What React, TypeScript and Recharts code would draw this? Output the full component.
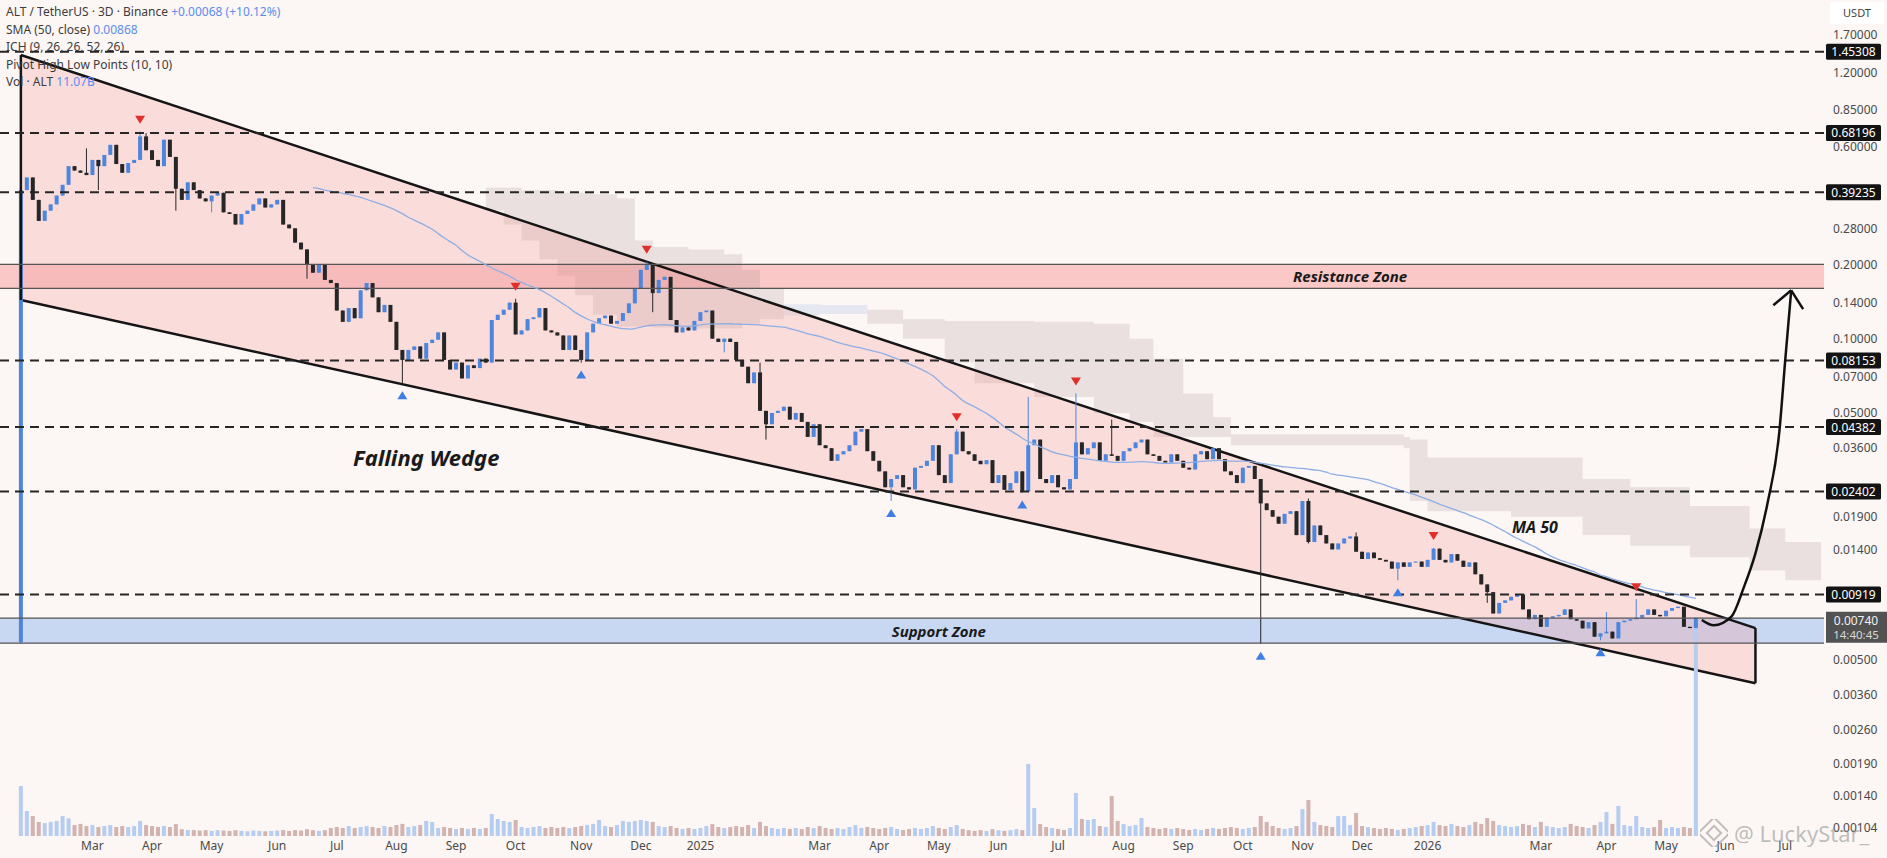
import React from 'react'
import {
  ComposedChart,
  Bar,
  Line,
  Area,
  XAxis,
  YAxis,
  ReferenceLine,
  ReferenceArea,
  ReferenceDot,
} from 'recharts'

// 3D candles, first one opens Jan 25 2024 (day 24 counted from Jan 1 2024)
const FIRST_DAY = 24
const CANDLE_DAYS = 3
const LEAD_SLOTS = 3
const TOTAL_SLOTS = 306

const firstOpen = 0.0059

const closes = [
  0.40, 0.45, 0.365, 0.30, 0.33, 0.35, 0.38, 0.42, 0.50, 0.48,
  0.47, 0.46, 0.53, 0.50, 0.555, 0.61, 0.51, 0.47, 0.515, 0.53,
  0.66, 0.58, 0.53, 0.50, 0.64, 0.545, 0.405, 0.365, 0.43, 0.40,
  0.37, 0.36, 0.38, 0.39, 0.325, 0.32, 0.29, 0.32, 0.33, 0.35,
  0.37, 0.34, 0.35, 0.365, 0.29, 0.28, 0.245, 0.23, 0.20, 0.185,
  0.20, 0.173, 0.168, 0.13, 0.117, 0.133, 0.121, 0.157, 0.168, 0.147,
  0.128, 0.137, 0.117, 0.09, 0.082, 0.09, 0.093, 0.083, 0.096, 0.099,
  0.106, 0.082, 0.075, 0.08, 0.069, 0.078, 0.076, 0.083, 0.08, 0.119,
  0.125, 0.131, 0.14, 0.104, 0.108, 0.12, 0.122, 0.133, 0.108, 0.106,
  0.103, 0.09, 0.103, 0.09, 0.082, 0.106, 0.115, 0.121, 0.124, 0.115,
  0.118, 0.127, 0.139, 0.16, 0.19, 0.20, 0.153, 0.173, 0.178, 0.119,
  0.106, 0.111, 0.108, 0.118, 0.128, 0.13, 0.10, 0.097, 0.10, 0.097,
  0.082, 0.077, 0.066, 0.073, 0.051, 0.045, 0.05, 0.051, 0.053, 0.047,
  0.05, 0.046, 0.04, 0.045, 0.037, 0.036, 0.032, 0.034, 0.035, 0.037,
  0.042, 0.043, 0.035, 0.032, 0.029, 0.025, 0.027, 0.028, 0.025, 0.0245,
  0.03, 0.0305, 0.032, 0.037, 0.028, 0.026, 0.034, 0.042, 0.035, 0.034,
  0.032, 0.031, 0.0322, 0.026, 0.028, 0.0244, 0.026, 0.029, 0.024, 0.037,
  0.039, 0.027, 0.026, 0.028, 0.025, 0.0245, 0.027, 0.038, 0.034, 0.036,
  0.038, 0.032, 0.034, 0.0335, 0.032, 0.035, 0.036, 0.038, 0.039, 0.034,
  0.0335, 0.032, 0.0315, 0.034, 0.032, 0.03, 0.0295, 0.034, 0.035, 0.0325,
  0.036, 0.0325, 0.029, 0.028, 0.026, 0.03, 0.0305, 0.027, 0.0215, 0.0202,
  0.019, 0.0178, 0.0195, 0.02, 0.016, 0.022, 0.015, 0.0175, 0.016, 0.0148,
  0.014, 0.0148, 0.0155, 0.0158, 0.0137, 0.0128, 0.0136, 0.0129, 0.0127, 0.0125,
  0.0117, 0.0124, 0.0119, 0.0124, 0.0125, 0.0119, 0.0127, 0.0141, 0.0127, 0.0124,
  0.0134, 0.0126, 0.0119, 0.0124, 0.0111, 0.0101, 0.0094, 0.0077, 0.0085, 0.0087,
  0.009, 0.0092, 0.008, 0.0073, 0.0076, 0.0068, 0.0074, 0.0075, 0.0076, 0.008,
  0.0073, 0.0072, 0.0067, 0.0071, 0.0062, 0.0064, 0.0065, 0.0061, 0.0071, 0.0072,
  0.0073, 0.0074, 0.0076, 0.008, 0.0076, 0.0075, 0.0079, 0.0081, 0.0082, 0.0068,
  0.00672, 0.0074,
]

// only the candles with a visible wick
const wickHighs: Record<number, number> = {
  0: 1.1, 11: 0.59, 20: 0.69, 21: 0.68, 83: 0.145, 105: 0.205, 124: 0.08,
  157: 0.043, 169: 0.058, 177: 0.06, 183: 0.047, 216: 0.0225, 224: 0.0164,
  237: 0.0142, 266: 0.0078, 271: 0.0088,
}
const wickLows: Record<number, number> = {
  0: 0.0058, 13: 0.40, 26: 0.33, 32: 0.325, 48: 0.175, 64: 0.066, 94: 0.08,
  106: 0.128, 118: 0.088, 125: 0.039, 146: 0.022, 168: 0.0238, 208: 0.0058,
  216: 0.0148, 231: 0.0105, 246: 0.0085, 265: 0.006,
}

// volume, millions of ALT
const volumes = [
  2560, 1280, 1020, 720, 660, 720, 770, 1020, 900, 560,
  620, 510, 560, 460, 510, 560, 460, 510, 460, 510,
  770, 560, 510, 460, 510, 460, 610, 350, 310, 300,
  280, 300, 260, 300, 280, 260, 300, 260, 240, 280,
  260, 240, 260, 280, 300, 260, 300, 280, 350, 300,
  260, 300, 410, 460, 410, 510, 410, 460, 510, 460,
  410, 510, 460, 560, 620, 460, 510, 560, 770, 720,
  410, 460, 410, 360, 410, 360, 410, 360, 410, 1130,
  870, 770, 720, 820, 460, 410, 460, 510, 410, 460,
  410, 460, 410, 460, 510, 560, 620, 820, 510, 460,
  560, 770, 720, 770, 820, 770, 720, 510, 460, 510,
  410, 360, 410, 360, 410, 510, 610, 460, 410, 460,
  510, 460, 560, 410, 720, 510, 410, 360, 410, 360,
  410, 360, 460, 410, 510, 410, 360, 410, 360, 460,
  560, 410, 460, 410, 360, 410, 460, 360, 310, 360,
  410, 360, 410, 510, 410, 360, 460, 560, 360, 300,
  260, 300, 260, 350, 300, 260, 300, 350, 300, 3690,
  1430, 610, 460, 410, 360, 310, 410, 2200, 870, 820,
  870, 510, 460, 2050, 770, 610, 510, 560, 920, 460,
  410, 360, 410, 360, 410, 360, 310, 360, 310, 360,
  410, 360, 410, 460, 410, 360, 410, 460, 1020, 720,
  510, 410, 360, 410, 510, 1380, 1840, 720, 560, 510,
  460, 1020, 1020, 560, 1180, 510, 460, 410, 360, 410,
  360, 310, 360, 410, 460, 510, 560, 720, 560, 510,
  620, 510, 460, 560, 720, 620, 920, 770, 560, 510,
  460, 510, 620, 560, 460, 720, 510, 460, 410, 460,
  620, 510, 460, 410, 560, 720, 1230, 620, 1540, 560,
  510, 1020, 460, 410, 460, 820, 410, 460, 410, 460,
  410, 11070,
]

// Ichimoku cloud, sampled at candle indices (already shifted forward)
const cloudAIdx = [78, 81, 84, 87, 90, 93, 96, 100, 103, 106, 112, 118, 121, 124, 128]
const cloudATop = [0.41, 0.41, 0.40, 0.40, 0.39, 0.39, 0.385, 0.37, 0.25, 0.235, 0.23, 0.22, 0.19, 0.16, 0.15]
const cloudABot = [0.33, 0.29, 0.25, 0.21, 0.18, 0.15, 0.125, 0.112, 0.112, 0.111, 0.11, 0.11, 0.115, 0.12, 0.125]
const bullIdx = [128, 134, 142]
const bullTop = [0.138, 0.137, 0.134]
const bullBot = [0.124, 0.126, 0.128]
const cloudBIdx = [142, 148, 155, 160, 170, 180, 186, 190, 195, 200, 203, 232, 233, 236, 250, 262, 270, 280, 290, 296, 302]
const cloudBTop = [0.131, 0.12, 0.118, 0.118, 0.117, 0.115, 0.1, 0.083, 0.06, 0.048, 0.041, 0.04, 0.039, 0.033, 0.033, 0.027, 0.025, 0.021, 0.017, 0.015, 0.013]
const cloudBBot = [0.115, 0.1, 0.08, 0.066, 0.058, 0.05, 0.046, 0.04, 0.04, 0.04, 0.037, 0.036, 0.022, 0.02, 0.019, 0.016, 0.0145, 0.013, 0.0115, 0.0105, 0.0099]

const wedgeIdx = [0, 291]
const wedgeTop = [1.41, 0.00672]
const wedgeBottom = [0.1434, 0.00402]

const arrowIdx = [282, 284, 287, 289, 291, 293, 295, 296, 297]
const arrowPrice = [0.00725, 0.0069, 0.0075, 0.00976, 0.0135, 0.0214, 0.0418, 0.082, 0.157]
const arrowHeadIdx = [294, 299]
const arrowHeadPrice = [0.1366, 0.1317]

const pivotHighIdx = [20, 83, 105, 157, 177, 237, 271]
const pivotLowIdx = [64, 94, 146, 168, 208, 231, 265]

const levelLines = [1.45308, 0.68196, 0.39235, 0.08153, 0.04382, 0.02402, 0.00919]
const priceTicks = [1.7, 1.2, 0.85, 0.6, 0.28, 0.2, 0.14, 0.1, 0.07, 0.05, 0.036, 0.019, 0.014, 0.005, 0.0036, 0.0026, 0.0019, 0.0014, 0.00104]
const resistanceZone = [0.16, 0.2]
const supportZone = [0.00584, 0.00738]
const lastPrice = 0.0074

const monthDays = [60, 91, 121, 152, 182, 213, 244, 274, 305, 335, 366, 425, 456, 486, 517, 547, 578, 609, 639, 670, 700, 731, 790, 821, 851, 882, 912]
const monthLabels = ['Mar', 'Apr', 'May', 'Jun', 'Jul', 'Aug', 'Sep', 'Oct', 'Nov', 'Dec', '2025', 'Mar', 'Apr', 'May', 'Jun', 'Jul', 'Aug', 'Sep', 'Oct', 'Nov', 'Dec', '2026', 'Mar', 'Apr', 'May', 'Jun', 'Jul']

const notes = [
  { text: 'Falling Wedge', idx: 68, price: 0.0332, size: 22 },
  { text: 'MA 50', idx: 254, price: 0.01726, size: 16 },
  { text: 'Resistance Zone', idx: 223, price: 0.179, size: 15 },
  { text: 'Support Zone', idx: 154, price: 0.00655, size: 15 },
]

const FONT = '"Noto Sans", "DejaVu Sans", sans-serif'
const BG = '#fcf6f4'
const UP = '#4f86dd'
const DOWN = '#262626'
const UP_VOL = '#b6cdf2'
const DOWN_VOL = '#d3b3b0'
const TXT_BLUE = '#5b8def'

const slotOf = (i: number) => i + LEAD_SLOTS

type Row = Record<string, any>

const rows: Row[] = Array.from({ length: TOTAL_SLOTS }, (_, k) => ({ slot: k }))

closes.forEach((close, i) => {
  const open = i === 0 ? firstOpen : closes[i - 1]
  const high = wickHighs[i] ?? Math.max(open, close)
  const low = wickLows[i] ?? Math.min(open, close)
  let sma
  if (i >= 49) {
    let s = 0
    for (let j = i - 49; j <= i; j++) s += closes[j]
    sma = s / 50
  }
  Object.assign(rows[slotOf(i)], {
    open, close, high, low,
    range: [low, high],
    up: close >= open,
    vol: volumes[i],
    sma,
  })
})

const putRange = (key: string, idx: number[], lo: number[], hi: number[]) => {
  idx.forEach((i, n) => {
    rows[slotOf(i)][key] = [lo[n], hi[n]]
  })
}
putRange('cloudA', cloudAIdx, cloudABot, cloudATop)
putRange('cloudBull', bullIdx, bullBot, bullTop)
putRange('cloudB', cloudBIdx, cloudBBot, cloudBTop)
putRange('wedge', wedgeIdx, wedgeBottom, wedgeTop)
arrowIdx.forEach((i, n) => {
  rows[slotOf(i)].arrow = arrowPrice[n]
})

const monthSlots = monthDays.map((d) => slotOf(Math.round((d - FIRST_DAY) / CANDLE_DAYS)))
const monthLabelOf: Record<number, string> = {}
monthSlots.forEach((s, n) => {
  monthLabelOf[s] = monthLabels[n]
})

function Candle(props: any) {
  const { x, y, width, height, payload } = props
  if (!payload || payload.close == null) return null
  const { open, close, high, low } = payload
  const top = Math.min(y, y + height)
  const span = Math.abs(height)
  const lh = Math.log(high)
  const ll = Math.log(low)
  const toY = (v: number) => (lh === ll ? top : top + (span * (lh - Math.log(v))) / (lh - ll))
  const color = close >= open ? UP : DOWN
  const cx = x + width / 2
  const bodyTop = toY(Math.max(open, close))
  const bodyBot = toY(Math.min(open, close))
  return (
    <g>
      <line x1={cx} x2={cx} y1={top} y2={top + span} stroke={color} strokeWidth={1} />
      <rect x={x} y={bodyTop} width={width} height={Math.max(1, bodyBot - bodyTop)} fill={color} />
    </g>
  )
}

function VolBar(props: any) {
  const { x, y, width, height, payload } = props
  if (!payload || payload.vol == null) return null
  return <rect x={x} y={y} width={width} height={Math.max(0, height)} fill={payload.up ? UP_VOL : DOWN_VOL} />
}

function LevelTag(props: any) {
  const { viewBox, text } = props
  if (!viewBox) return null
  const x = viewBox.x + viewBox.width
  const y = viewBox.y
  return (
    <g>
      <rect x={x + 2} y={y - 8} width={55} height={16} fill="#131313" rx={1.5} />
      <text x={x + 29.5} y={y + 4.5} fill="#ffffff" fontSize={12} fontFamily={FONT} textAnchor="middle">
        {text}
      </text>
    </g>
  )
}

function PriceTag(props: any) {
  const { viewBox } = props
  if (!viewBox) return null
  const x = viewBox.x + viewBox.width
  const y = viewBox.y
  return (
    <g>
      <rect x={x + 2} y={y - 6} width={61} height={31} fill="#525252" />
      <text x={x + 32} y={y + 7} fill="#f0f0f0" fontSize={12} fontFamily={FONT} textAnchor="middle">
        0.00740
      </text>
      <text x={x + 32} y={y + 21} fill="#d8d8d8" fontSize={11.5} fontFamily={FONT} textAnchor="middle">
        14:40:45
      </text>
    </g>
  )
}

const pivotDown = (p: any) => (
  <polygon points={`${p.cx - 5},${p.cy - 16} ${p.cx + 5},${p.cy - 16} ${p.cx},${p.cy - 8}`} fill="#e0302a" />
)
const pivotUp = (p: any) => (
  <polygon points={`${p.cx - 5},${p.cy + 16} ${p.cx + 5},${p.cy + 16} ${p.cx},${p.cy + 8}`} fill="#3f7fe3" />
)

export default function App() {
  return (
    <div style={{ position: 'relative', width: 1887, height: 858, background: BG, overflow: 'hidden' }}>
      <style>{'body{margin:0}'}</style>
      <ComposedChart width={1887} height={858} data={rows} margin={{ top: 0, right: 0, bottom: 0, left: 0 }}>
        <XAxis
          dataKey="slot"
          type="category"
          ticks={monthSlots}
          interval={0}
          tickFormatter={(v) => monthLabelOf[v] ?? ''}
          axisLine={false}
          tickLine={false}
          tickSize={0}
          tickMargin={5}
          height={22}
          tick={{ fontSize: 12, fill: '#4a4a4a', fontFamily: FONT }}
        />
        <XAxis xAxisId="vx" dataKey="slot" type="category" hide />
        <YAxis
          orientation="right"
          type="number"
          scale="log"
          domain={[0.000966, 2.356]}
          allowDataOverflow
          ticks={priceTicks}
          interval={0}
          tickFormatter={(v) => Number(v).toFixed(5)}
          axisLine={false}
          tickLine={false}
          tickSize={0}
          tickMargin={9}
          width={63}
          tick={{ fontSize: 12, fill: '#4a4a4a', fontFamily: FONT }}
        />
        <YAxis yAxisId="vol" type="number" domain={[0, 42800]} hide />

        <ReferenceArea y1={resistanceZone[0]} y2={resistanceZone[1]} fill="#f7a3a3" fillOpacity={0.55} stroke="none" />
        <ReferenceArea y1={supportZone[0]} y2={supportZone[1]} fill="#9dbef0" fillOpacity={0.55} stroke="none" />

        <Area dataKey="cloudA" type="stepAfter" connectNulls stroke="none" fill="#8c7676" fillOpacity={0.17} isAnimationActive={false} />
        <Area dataKey="cloudBull" type="stepAfter" connectNulls stroke="none" fill="#9ab8e8" fillOpacity={0.22} isAnimationActive={false} />
        <Area dataKey="cloudB" type="stepAfter" connectNulls stroke="none" fill="#8c7676" fillOpacity={0.17} isAnimationActive={false} />

        <Area
          dataKey="wedge"
          type="linear"
          connectNulls
          stroke="#151515"
          strokeWidth={2.5}
          fill="#f4a0a0"
          fillOpacity={0.3}
          isAnimationActive={false}
        />
        <ReferenceLine
          segment={[{ x: slotOf(wedgeIdx[0]), y: wedgeBottom[0] }, { x: slotOf(wedgeIdx[0]), y: wedgeTop[0] }]}
          stroke="#151515"
          strokeWidth={2.5}
        />
        <ReferenceLine
          segment={[{ x: slotOf(wedgeIdx[1]), y: wedgeBottom[1] }, { x: slotOf(wedgeIdx[1]), y: wedgeTop[1] }]}
          stroke="#151515"
          strokeWidth={2.5}
        />

        {resistanceZone.concat(supportZone).map((v) => (
          <ReferenceLine key={`z${v}`} y={v} stroke="#555" strokeWidth={1.2} />
        ))}

        <Bar
          dataKey="vol"
          xAxisId="vx"
          yAxisId="vol"
          barSize={4}
          shape={<VolBar />}
          isAnimationActive={false}
        />
        <Bar dataKey="range" barSize={4} shape={<Candle />} isAnimationActive={false} />

        <Line dataKey="sma" type="monotone" stroke="#8eaee6" strokeWidth={1.3} dot={false} isAnimationActive={false} />

        {levelLines.map((v) => (
          <ReferenceLine
            key={`l${v}`}
            y={v}
            stroke="#262626"
            strokeWidth={2}
            strokeDasharray="9 6"
            label={<LevelTag text={v.toFixed(5)} />}
          />
        ))}
        <ReferenceLine y={lastPrice} stroke="none" label={<PriceTag />} />

        <Line
          dataKey="arrow"
          type="monotone"
          connectNulls
          stroke="#111"
          strokeWidth={2.5}
          dot={false}
          isAnimationActive={false}
        />
        {arrowHeadIdx.map((i, n) => (
          <ReferenceLine
            key={`ah${i}`}
            segment={[
              { x: slotOf(arrowIdx[arrowIdx.length - 1]), y: arrowPrice[arrowPrice.length - 1] },
              { x: slotOf(i), y: arrowHeadPrice[n] },
            ]}
            stroke="#111"
            strokeWidth={2.5}
          />
        ))}

        {pivotHighIdx.map((i) => (
          <ReferenceDot key={`ph${i}`} x={slotOf(i)} y={rows[slotOf(i)].high} r={1} shape={pivotDown} />
        ))}
        {pivotLowIdx.map((i) => (
          <ReferenceDot key={`pl${i}`} x={slotOf(i)} y={rows[slotOf(i)].low} r={1} shape={pivotUp} />
        ))}

        {notes.map((n) => (
          <ReferenceDot
            key={n.text}
            x={slotOf(n.idx)}
            y={n.price}
            r={1}
            shape={(p: any) => (
              <text
                x={p.cx}
                y={p.cy}
                textAnchor="middle"
                dominantBaseline="central"
                fontSize={n.size}
                fontWeight={700}
                fontStyle="italic"
                fontFamily={FONT}
                fill="#1a1a1a"
              >
                {n.text}
              </text>
            )}
          />
        ))}
      </ComposedChart>

      <div
        style={{
          position: 'absolute',
          left: 6,
          top: 3,
          fontFamily: FONT,
          fontSize: 12,
          lineHeight: '17.5px',
          color: '#3c3c3c',
          pointerEvents: 'none',
        }}
      >
        <div>
          ALT / TetherUS · 3D · Binance <span style={{ color: TXT_BLUE }}>+0.00068 (+10.12%)</span>
        </div>
        <div>
          SMA (50, close) <span style={{ color: TXT_BLUE }}>0.00868</span>
        </div>
        <div>ICH (9, 26, 26, 52, 26)</div>
        <div>Pivot High Low Points (10, 10)</div>
        <div>
          Vol · ALT <span style={{ color: TXT_BLUE }}>11.07B</span>
        </div>
      </div>

      <div
        style={{
          position: 'absolute',
          left: 1830,
          top: 2,
          width: 54,
          height: 22,
          background: '#ffffff',
          fontFamily: FONT,
          fontSize: 11,
          lineHeight: '22px',
          color: '#444',
          textAlign: 'center',
        }}
      >
        USDT
      </div>

      <div
        style={{
          position: 'absolute',
          left: 1700,
          top: 818,
          display: 'flex',
          alignItems: 'center',
          gap: 6,
          fontFamily: FONT,
          fontSize: 22,
          color: 'rgba(150,150,150,0.6)',
          pointerEvents: 'none',
        }}
      >
        <svg width={28} height={28} viewBox="0 0 28 28">
          <g fill="none" stroke="rgba(150,150,150,0.6)" strokeWidth={2}>
            <rect x={9} y={9} width={10} height={10} transform="rotate(45 14 14)" />
            <rect x={3} y={3} width={22} height={22} transform="rotate(45 14 14)" />
          </g>
        </svg>
        <span>@ LuckyStar_</span>
      </div>
    </div>
  )
}
